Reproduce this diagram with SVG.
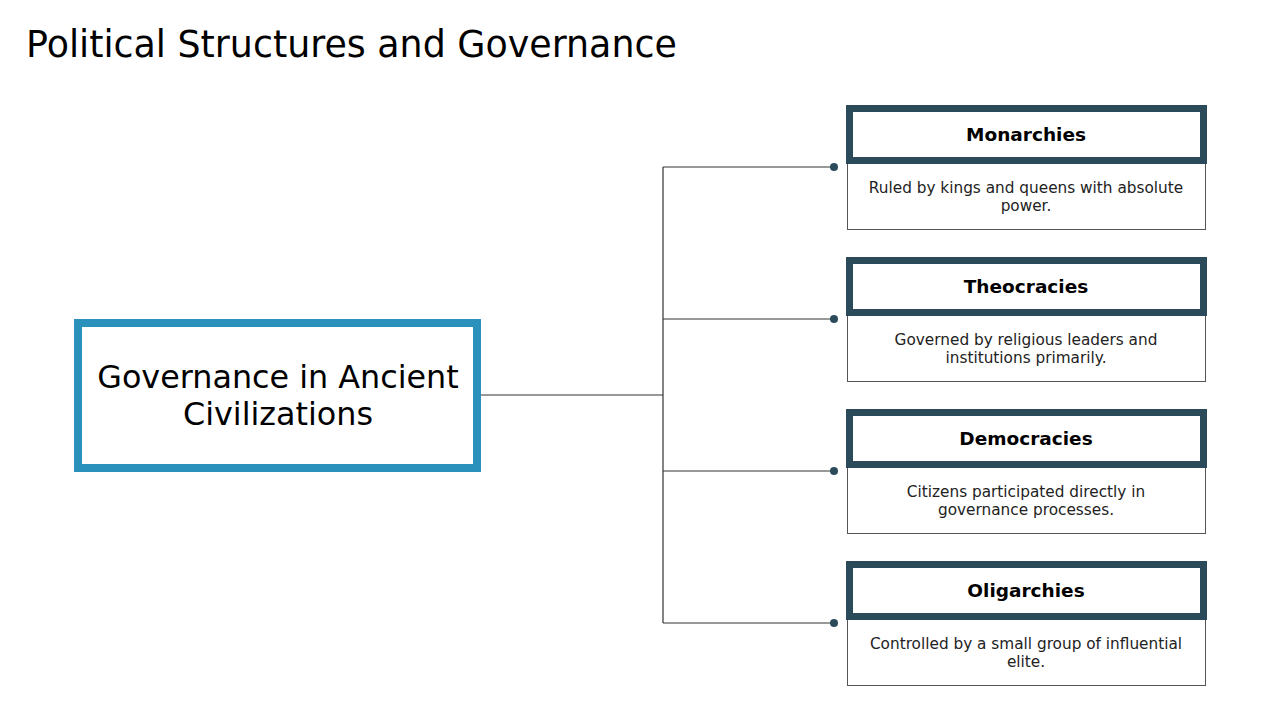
<svg xmlns="http://www.w3.org/2000/svg" width="1280" height="720" viewBox="0 0 1280 720">
<style>
text{font-family:"DejaVu Sans","Noto Sans",sans-serif;fill:#000}
.title{font-size:36.4px}
.main{font-size:31.8px;text-anchor:middle}
.hdr{font-size:18.5px;font-weight:bold;text-anchor:middle}
.body{font-size:15.3px;text-anchor:middle;fill:#222}
.hbox{fill:#fff;stroke:#2B4A5A;stroke-width:7}
.bbox{fill:#fff;stroke:#555;stroke-width:1}
.conn{fill:none;stroke:#333;stroke-width:1.2}
.dot{fill:#2B4A5A}
</style>
<rect width="1280" height="720" fill="#fff"/>
<text class="title" x="26" y="57">Political Structures and Governance</text>
<g id="connectors">
<path class="conn" d="M481 395H663M663 167V623M663 167H834M663 319H834M663 471H834M663 623H834"/>
<circle class="dot" cx="834" cy="167" r="4"/>
<circle class="dot" cx="834" cy="319" r="4"/>
<circle class="dot" cx="834" cy="471" r="4"/>
<circle class="dot" cx="834" cy="623" r="4"/>
</g>
<g id="main">
<rect x="78" y="323" width="399" height="145" fill="#fff" stroke="#2A90BC" stroke-width="8"/>
<text class="main" x="278" y="388">Governance in Ancient</text>
<text class="main" x="278" y="425">Civilizations</text>
</g>
<g id="monarchies">
<rect class="bbox" x="847.5" y="160" width="358" height="69.5"/>
<rect class="hbox" x="849.5" y="108.5" width="354" height="52"/>
<text class="hdr" x="1026" y="141">Monarchies</text>
<text class="body" x="1026" y="193">Ruled by kings and queens with absolute</text>
<text class="body" x="1026" y="211">power.</text>
</g>
<g id="theocracies">
<rect class="bbox" x="847.5" y="312" width="358" height="69.5"/>
<rect class="hbox" x="849.5" y="260.5" width="354" height="52"/>
<text class="hdr" x="1026" y="293">Theocracies</text>
<text class="body" x="1026" y="345">Governed by religious leaders and</text>
<text class="body" x="1026" y="363">institutions primarily.</text>
</g>
<g id="democracies">
<rect class="bbox" x="847.5" y="464" width="358" height="69.5"/>
<rect class="hbox" x="849.5" y="412.5" width="354" height="52"/>
<text class="hdr" x="1026" y="445">Democracies</text>
<text class="body" x="1026" y="497">Citizens participated directly in</text>
<text class="body" x="1026" y="515">governance processes.</text>
</g>
<g id="oligarchies">
<rect class="bbox" x="847.5" y="616" width="358" height="69.5"/>
<rect class="hbox" x="849.5" y="564.5" width="354" height="52"/>
<text class="hdr" x="1026" y="597">Oligarchies</text>
<text class="body" x="1026" y="649">Controlled by a small group of influential</text>
<text class="body" x="1026" y="667">elite.</text>
</g>
</svg>
